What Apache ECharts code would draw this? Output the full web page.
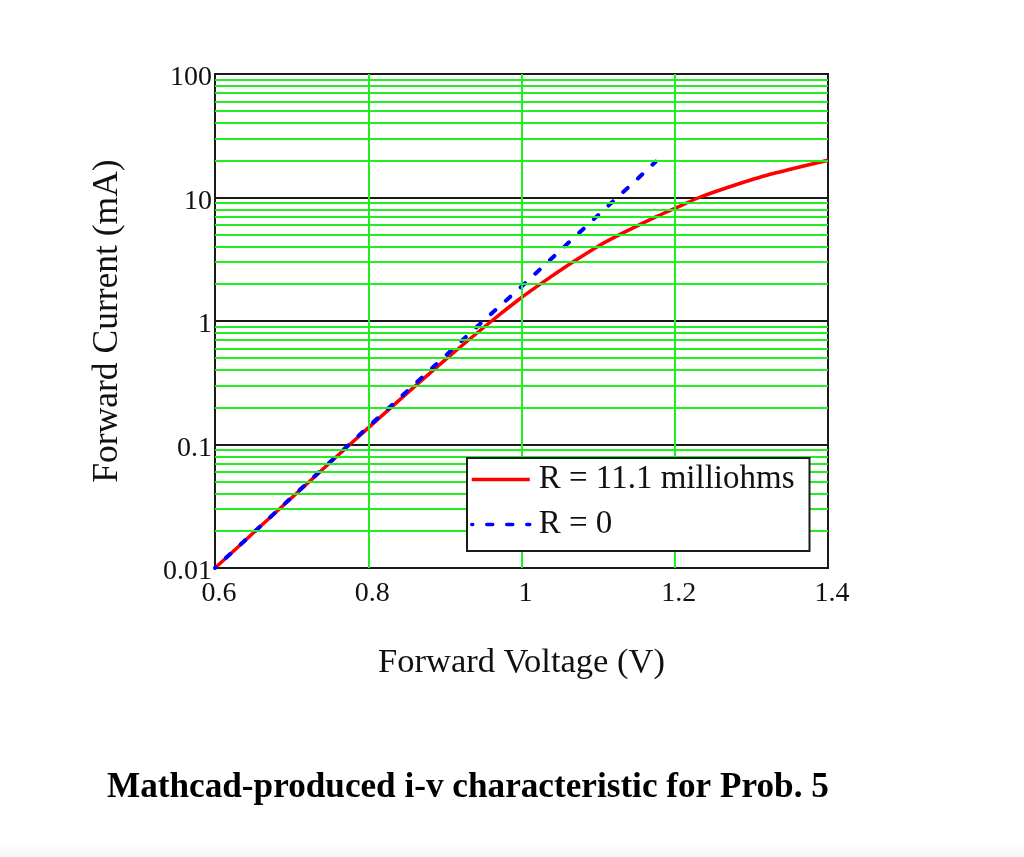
<!DOCTYPE html>
<html>
<head>
<meta charset="utf-8">
<script src="https://cdn.jsdelivr.net/npm/echarts@6/dist/echarts.min.js"></script>
<style>
html,body{margin:0;padding:0;background:#fff;}
#chart{width:1024px;height:857px;}
</style>
</head>
<body>
<div id="chart"></div>
<script>
// ---- data ----
var seriesNames = ['R = 11.1 milliohms', 'R = 0'];
// red curve (R = 11.1): voltage (V) and current (mA)
var redV = [0.600, 0.653, 0.723, 0.776, 0.830, 0.903, 0.961, 0.997, 1.025, 1.067, 1.099, 1.128, 1.176, 1.197, 1.232, 1.268, 1.318, 1.400];
var redI = [0.01, 0.02, 0.05, 0.1, 0.2, 0.5, 1, 1.5, 2, 3, 4, 5, 7, 8, 10, 12, 15, 20];
// blue curve (R = 0)
var blueV = [0.60, 0.65, 0.70, 0.75, 0.80, 0.85, 0.90, 0.95, 1.00, 1.05, 1.10, 1.15, 1.175];
var blueI = [0.01, 0.0193, 0.0373, 0.072, 0.139, 0.268, 0.518, 1.0, 1.9, 3.7, 7.2, 13.9, 19.5];
// tick labels
var xTickValues = [0.6, 0.8, 1.0, 1.2, 1.4];
var xTickLabels = ['0.6', '0.8', '1', '1.2', '1.4'];
var yTickValues = [0.01, 0.1, 1, 10, 100];
var yTickLabels = ['0.01', '0.1', '1', '10', '100'];
// inner vertical grid lines and minor (2..9) horizontal grid lines
var xInnerGrid = [0.8, 1.0, 1.2];
var minorMultipliers = [2, 3, 4, 5, 6, 7, 8, 9];
var decades = [0.01, 0.1, 1, 10];

var serif = 'Liberation Serif, Times New Roman, serif';
var green = '#22ee22';
var black = '#1a1a1a';

function zip(a, b) { var r = []; for (var i = 0; i < a.length; i++) r.push([a[i], b[i]]); return r; }

var gridMarks = [];
decades.forEach(function (d) {
  minorMultipliers.forEach(function (m) { gridMarks.push({ yAxis: +(d * m).toPrecision(3) }); });
});
xInnerGrid.forEach(function (x) { gridMarks.push({ xAxis: x }); });

var chart = echarts.init(document.getElementById('chart'), null, { renderer: 'canvas' });
chart.setOption({
  animation: false,
  backgroundColor: '#ffffff',
  title: {
    text: 'Mathcad-produced i-v characteristic for Prob. 5',
    left: 107, top: 770, padding: 0,
    textStyle: { fontFamily: serif, fontWeight: 'bold', fontSize: 35.2, color: '#000', lineHeight: 36 }
  },
  grid: {
    left: 215, right: 196, top: 74, bottom: 289,
    show: true, borderColor: black, borderWidth: 2, backgroundColor: '#fff'
  },
  legend: {
    data: seriesNames,
    orient: 'vertical',
    left: 467, top: 458, z: 50,
    padding: [5, 15, 10, 3],
    itemWidth: 58, itemHeight: 4, itemGap: 12,
    backgroundColor: '#fff',
    borderColor: black, borderWidth: 2, borderRadius: 0,
    selectedMode: false,
    itemStyle: { opacity: 0 },
    lineStyle: { width: 3.5 },
    textStyle: { fontFamily: serif, fontSize: 33, color: '#111', lineHeight: 32, padding: [0, 0, 0, 4] }
  },
  xAxis: {
    type: 'value', min: 0.6, max: 1.4, interval: 0.2,
    axisLine: { show: true, onZero: false, lineStyle: { color: black, width: 2 } },
    axisTick: { show: false },
    splitLine: { show: false },
    axisLabel: {
      fontFamily: serif, fontSize: 28, color: '#111', margin: 12, lineHeight: 28,
      padding: [0, 0, 0, 8],
      formatter: function (v) {
        for (var i = 0; i < xTickValues.length; i++) if (Math.abs(v - xTickValues[i]) < 1e-6) return xTickLabels[i];
        return '';
      }
    },
    name: 'Forward Voltage (V)', nameLocation: 'middle', nameGap: 78,
    nameTextStyle: { fontFamily: serif, fontSize: 34.5, color: '#111', lineHeight: 34 }
  },
  yAxis: {
    type: 'log', logBase: 10, min: 0.01, max: 100,
    axisLine: { show: true, lineStyle: { color: black, width: 2 } },
    axisTick: { show: false },
    splitLine: { show: true, lineStyle: { color: black, width: 2 } },
    axisLabel: {
      fontFamily: serif, fontSize: 28, color: '#111', margin: 3,
      verticalAlign: 'top', lineHeight: 8,
      formatter: function (v) {
        for (var i = 0; i < yTickValues.length; i++) if (Math.abs(Math.log10(v) - Math.log10(yTickValues[i])) < 1e-6) return yTickLabels[i];
        return '';
      }
    },
    name: 'Forward Current (mA)', nameLocation: 'middle', nameGap: 90,
    nameTextStyle: { fontFamily: serif, fontSize: 35.5, color: '#111', lineHeight: 34 }
  },
  graphic: [{
    type: 'rect', left: 0, top: 843, shape: { width: 1024, height: 14 }, silent: true, z: -10,
    style: { fill: new echarts.graphic.LinearGradient(0, 0, 0, 1, [{ offset: 0, color: '#ffffff' }, { offset: 1, color: '#f6f6f6' }]) }
  }],
  series: [
    {
      type: 'line', name: 'gridlines', data: [], z: 1, silent: true,
      markLine: {
        silent: true, symbol: 'none', animation: false,
        label: { show: false },
        emphasis: { disabled: true },
        lineStyle: { color: green, width: 2, type: 'solid' },
        data: gridMarks
      }
    },
    {
      type: 'line', name: seriesNames[0], data: zip(redV, redI), z: 3,
      showSymbol: false, symbol: 'none', smooth: 0.3,
      lineStyle: { color: '#ff0000', width: 3.5 },
      itemStyle: { color: '#ff0000' }
    },
    {
      type: 'line', name: seriesNames[1], data: zip(blueV, blueI), z: 4,
      showSymbol: false, symbol: 'none',
      lineStyle: { color: '#0000ff', width: 4, type: [6, 14], dashOffset: 5, cap: 'round' },
      itemStyle: { color: '#0000ff' }
    }
  ]
});
</script>
</body>
</html>
